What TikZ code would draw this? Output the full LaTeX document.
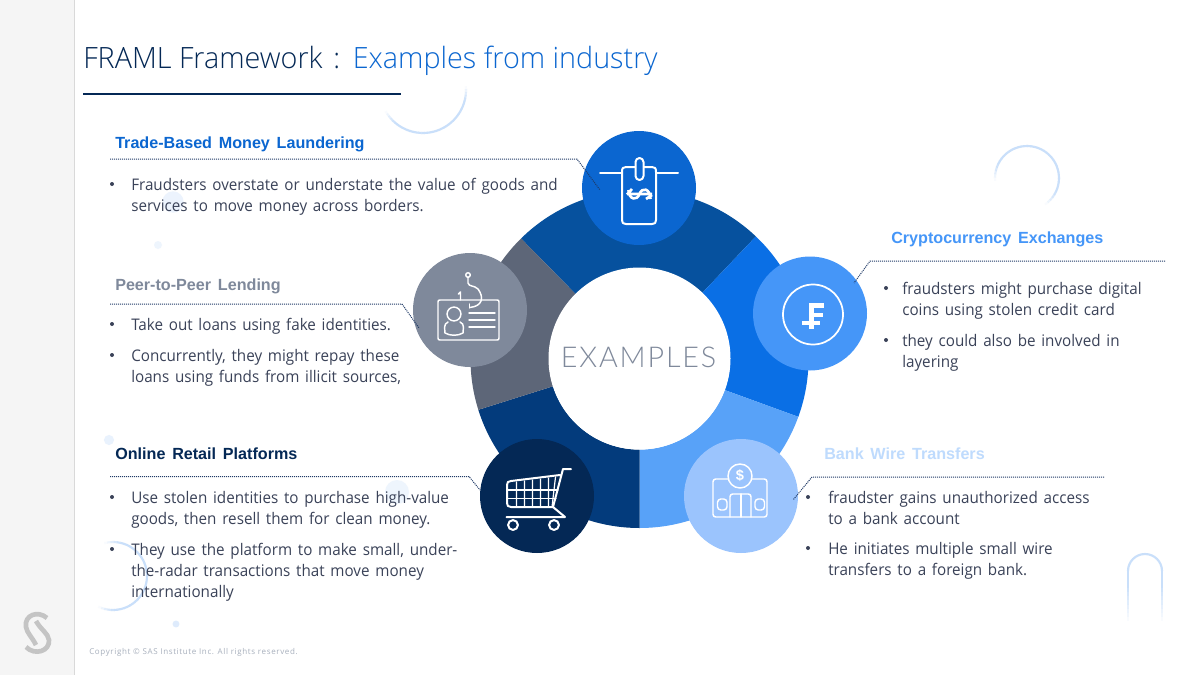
\documentclass[tikz,border=0pt]{standalone}
\usepackage{fontspec}
\setmainfont{Open Sans}
\newfontfamily\bodyfam[FakeStretch=0.95]{Open Sans}
\newfontfamily\titlefam[FakeStretch=0.98]{Open Sans Light}
\newfontfamily\headfont{Liberation Sans}
\newfontfamily\exfont[LetterSpace=6.5]{Lato Light}
\newfontfamily\copyfont[LetterSpace=8]{Open Sans}
\usetikzlibrary{calc}
\newcommand{\bodyfontset}{\bodyfam\fontsize{12}{15.75}\selectfont\spaceskip=0.36em plus 0.1em\relax}
\newcommand{\headfontset}{\headfont\bfseries\fontsize{12.1}{14}\selectfont\spaceskip=0.42em\relax}
\definecolor{cTop}{HTML}{06519E}\definecolor{cRight}{HTML}{0A6FE5}\definecolor{cLow}{HTML}{58A2F8}
\definecolor{cBot}{HTML}{033B7C}\definecolor{cLeft}{HTML}{5D6678}
\definecolor{dTop}{HTML}{0B66D0}\definecolor{dRight}{HTML}{4596F8}\definecolor{dLow}{HTML}{9BC4FD}
\definecolor{dBot}{HTML}{042855}\definecolor{dLeft}{HTML}{7F899B}
\definecolor{bodyc}{HTML}{3A4258}\definecolor{leaderc}{HTML}{1F3A66}\definecolor{deco}{HTML}{C9DFFA}
\definecolor{bankhead}{HTML}{BFDBFD}\definecolor{titlec}{HTML}{042855}\definecolor{copyc}{HTML}{A8B0BD}
\tikzset{
  x=0.75pt,y=0.75pt,
  disc/.style={circle,inner sep=0pt,minimum size=85.5pt},
  body/.style={anchor=north west,inner sep=0pt,align=left,text=bodyc,font=\bodyfontset},
  bullet/.style={circle,fill=bodyc,inner sep=0pt,minimum size=3pt},
  heading/.style={anchor=base west,inner sep=0pt,font=\headfontset},
  leader/.style={draw=leaderc,line width=0.75pt,dash pattern=on 0.75pt off 0.75pt},
  icon/.style={draw=white,line width=1.5pt,line join=round,line cap=round},
  iconthin/.style={draw=white,line width=1.1pt,line join=round,line cap=round},
}
\newcommand{\para}[4]{\node[body] (#1) at (#2,{-#3+14.7}) {\strut #4};}
\newcommand{\bul}[3]{\node[bullet] (#1) at (#2,{-#3}) {};}
\newcommand{\fadearc}[5]{%
  \foreach \i in {0,...,39}{%
    \pgfmathsetmacro{\aa}{#4+(#5-#4)*\i/40}%
    \pgfmathsetmacro{\bb}{#4+(#5-#4)*(\i+1.1)/40}%
    \pgfmathsetmacro{\op}{min(1,2.6*sin(180*(\i+0.5)/40))}%
    \draw[deco,line width=1.6pt,opacity=\op] ({#1+#3*cos(\aa)},{-#2+#3*sin(\aa)}) arc[start angle=\aa,end angle=\bb,radius=#3*0.75pt];
  }}
\begin{document}
\begin{tikzpicture}
\useasboundingbox (0,0) rectangle (1200,-675);
\fill[white] (0,0) rectangle (1200,-675);
% sidebar
\fill[black!4] (0,0) rectangle (74,-675);
\fill[black!15] (73.5,0) rectangle (75,-675);
% logo
\draw[black!23,line width=3.5pt] (47,-618) .. controls (38,-610) and (24,-615) .. (26,-627) .. controls (27,-633) and (32,-637) .. (36,-645);
\draw[black!23,line width=3.5pt] (26,-647) .. controls (35,-656) and (50,-651) .. (49,-640) .. controls (48,-633) and (41,-630) .. (36,-621);
% decoration
\fadearc{423}{90}{43}{5}{-150}
\fadearc{1027}{178}{32}{185}{-55}
\fadearc{113}{576}{34}{105}{-115}
\foreach \i in {0,...,11}{
  \pgfmathsetmacro{\op}{min(1,(12-\i)/9)}
  \draw[deco,line width=1.6pt,opacity=\op] (1128,{-571-\i*4.2}) -- (1128,{-571-(\i+1)*4.2});
  \draw[deco,line width=1.6pt,opacity=\op] (1162,{-571-\i*4.2}) -- (1162,{-571-(\i+1)*4.2});
}
\draw[deco,line width=1.6pt] (1128,-571) arc[start angle=180,end angle=0,radius=12.75pt];
\fill[deco,opacity=.35] (173,-202) circle[radius=8pt];
\fill[deco,opacity=.3] (158,-245) circle[radius=3pt];
\fill[deco,opacity=.6] (176,-624) circle[radius=2.6pt];
\fill[deco,opacity=.4] (109,-440) circle[radius=3.8pt];
\fill[deco,opacity=.3] (397,-492) circle[radius=9pt];
% title
\node[anchor=base west,inner sep=0pt,font=\titlefam\fontsize{22}{26}\selectfont] (title) at (83,-68) {\textcolor{titlec}{FRAML Framework\hspace{8pt}:}\hspace{2pt} \textcolor{dTop}{Examples from industry}};
\coordinate (ruleL) at (83,-94); \coordinate (ruleR) at (401,-94);
\draw[titlec,line width=1.5pt] (ruleL) -- (ruleR);
% ring
\coordinate (ctr) at (639.5,-359);
\begin{scope}[shift={(ctr)}]
\def\Ro{126.75pt}\def\Ri{68pt}
\foreach \a/\b/\c in {46.5/134.5/cTop,-20/46.5/cRight,-90/-20/cLow,-162.5/-90/cBot,134.5/197.5/cLeft}{
  \fill[\c] (\a:\Ro) arc[start angle=\a,end angle=\b,radius=\Ro] -- (\b:\Ri) arc[start angle=\b,end angle=\a,radius=\Ri] -- cycle;
}
\end{scope}
\node[circle,fill=white,inner sep=0pt,minimum size=136.5pt] (hub) at (639.5,-358.5) {};
\node[anchor=base,inner sep=0pt,text=dLeft,font=\exfont\fontsize{21.5}{24}\selectfont] (hubtext) at (638.5,-367) {EXAMPLES};
% discs
\node[disc,fill=dTop] (dtrade) at (639,-188) {};
\node[disc,fill=dRight] (dcrypto) at (810,-313.5) {};
\node[disc,fill=dLow] (dbank) at (741,-496) {};
\node[disc,fill=dBot] (dcart) at (537,-496) {};
\node[disc,fill=dLeft] (dpeer) at (470,-310) {};
% tag icon
\draw[icon] (600,-172.7) -- (622,-172.7) (656,-172.7) -- (678,-172.7);
\draw[icon] (622,-172) .. controls (622,-168) and (623,-167) .. (626,-167) -- (652,-167) .. controls (655,-167) and (656,-168) .. (656,-172) -- (656,-220) .. controls (656,-223) and (655,-224) .. (652,-224) -- (626,-224) .. controls (623,-224) and (622,-223) .. (622,-220) -- cycle;
\draw[icon,fill=dTop,rounded corners=3pt] (635.5,-158) rectangle (643.5,-180);
\draw[white,line width=2pt] (650.5,-199) .. controls (650,-188) and (642,-187) .. (639.5,-194) .. controls (637,-201) and (629,-200) .. (628.5,-190);
\draw[white,line width=2pt] (627,-194.5) -- (632,-189) (627,-194) -- (652,-194);
\draw[white,line width=2pt] (646,-199) -- (652,-195);
% F icon
\draw[white,line width=1.3pt] (813,-314.5) circle[radius=22.5pt];
\draw[white,line width=4.1pt] (811.5,-329) -- (811.5,-303);
\draw[white,line width=3.4pt] (809,-305.5) -- (824,-305.5);
\draw[white,line width=2.8pt] (811,-315) -- (823,-315) (802,-323) -- (820,-323);
% ID icon
\draw[iconthin] (440,-300) -- (497,-300) .. controls (498.5,-300) and (499,-300.5) .. (499,-302) -- (499,-338) .. controls (499,-339.5) and (498.5,-340) .. (497,-340) -- (440,-340) .. controls (438.5,-340) and (438,-339.5) .. (438,-338) -- (438,-302) .. controls (438,-300.5) and (438.5,-300) .. (440,-300) -- cycle;
\draw[iconthin] (454,-314) circle[radius=5.2pt];
\draw[iconthin] (448,-322) .. controls (443,-324) and (445,-330) .. (445,-333) .. controls (450,-336) and (458,-336) .. (463,-333) .. controls (463,-329) and (465,-324) .. (460,-322);
\draw[iconthin] (469,-313) -- (495,-313) (469,-320) -- (495,-320) (469,-327) -- (495,-327);
\draw[iconthin] (468,-275) circle[radius=1.7pt];
\draw[iconthin] (468,-277) -- (468,-283) .. controls (469,-287) and (474,-285) .. (478,-289) .. controls (484,-297) and (483,-306) .. (470,-307.5);
\draw[iconthin] (469.5,-304) -- (469.5,-308);
\draw[iconthin] (460.5,-300) -- (460.5,-292) (458.5,-294) -- (460.5,-292);
% cart icon
\draw[icon] (571,-469) -- (563,-469) -- (553,-507) -- (511,-507) .. controls (508,-507) and (507,-505.5) .. (507,-503) -- (507,-485) .. controls (507,-482) and (508,-481.5) .. (511,-481) -- (560,-475);
\draw[iconthin,line width=0.9pt] (516.5,-482) -- (516.5,-507) (524.5,-481) -- (524.5,-507) (532.5,-480) -- (532.5,-507) (540.5,-479) -- (540.5,-507) (548.5,-478) -- (548.5,-507) (555.5,-477) -- (552,-507);
\draw[iconthin,line width=0.9pt] (507,-490) -- (558,-490) (507,-498.5) -- (556,-498.5);
\draw[icon] (506.5,-517) -- (565,-517) -- (553,-507);
\draw[icon] (513,-525) circle[radius=3.7pt] (554,-525) circle[radius=3.7pt];
% bank icon
\draw[iconthin,rounded corners=2pt] (713,-479) rectangle (767,-517);
\draw[iconthin,fill=dLow] (740,-476) circle[radius=9pt];
\node[inner sep=0pt,text=white,font=\headfont\bfseries\fontsize{11}{12}\selectfont] (dollar) at (740,-476) {\$};
\draw[iconthin,rounded corners=2pt] (730,-517) -- (730,-494) -- (751,-494) -- (751,-517);
\draw[iconthin] (741,-494) -- (741,-517);
\draw[iconthin,rounded corners=2.5pt] (717.5,-499) rectangle (727,-510);
\draw[iconthin,rounded corners=2.5pt] (755,-499) rectangle (764.5,-510);
% leaders
\coordinate (a1) at (110,-159); \coordinate (a2) at (577,-159); \coordinate (a3) at (600,-190);
\draw[leader] (a1) -- (a2) -- (a3);
\coordinate (b1) at (110,-304); \coordinate (b2) at (402,-304); \coordinate (b3) at (419,-328);
\draw[leader] (b1) -- (b2) -- (b3);
\coordinate (c1) at (110,-476.5); \coordinate (c2) at (469,-476.5); \coordinate (c3) at (480,-490);
\draw[leader] (c1) -- (c2) -- (c3);
\coordinate (d1) at (1165,-261); \coordinate (d2) at (870,-261); \coordinate (d3) at (854,-283);
\draw[leader] (d1) -- (d2) -- (d3);
\coordinate (e1) at (1104,-477); \coordinate (e2) at (812,-477); \coordinate (e3) at (793,-500);
\draw[leader] (e1) -- (e2) -- (e3);
% headings
\node[heading,text=dTop] (h1) at (115,-148) {Trade-Based Money Laundering};
\node[heading,text=dLeft] (h2) at (115,-290) {Peer-to-Peer Lending};
\node[heading,text=dBot] (h3) at (115,-459) {Online Retail Platforms};
\node[heading,text=dRight] (h4) at (891,-243) {Cryptocurrency Exchanges};
\node[heading,text=bankhead] (h5) at (824,-459) {Bank Wire Transfers};
% bodies
\bul{b11}{112}{184}
\para{p11}{131}{190}{Fraudsters overstate or understate the value of goods and\\services to move money across borders.}
\bul{b21}{112}{324}
\para{p21}{131}{330}{Take out loans using fake identities.}
\bul{b22}{112}{355}
\para{p22}{131}{361}{Concurrently, they might repay these\\loans using funds from illicit sources,}
\bul{b31}{112}{497}
\para{p31}{131}{503}{Use stolen identities to purchase high-value\\goods, then resell them for clean money.}
\bul{b32}{112}{549}
\para{p32}{131}{555}{They use the platform to make small, under-\\the-radar transactions that move money\\internationally}
\bul{b41}{886}{288}
\para{p41}{902}{294.5}{fraudsters might purchase digital\\coins using stolen credit card}
\bul{b42}{886}{340}
\para{p42}{902}{346.5}{they could also be involved in\\layering}
\bul{b51}{808}{497}
\para{p51}{828}{503}{fraudster gains unauthorized access\\to a bank account}
\bul{b52}{808}{548}
\para{p52}{828}{554.5}{He initiates multiple small wire\\transfers to a foreign bank.}
% footer
\node[anchor=base west,inner sep=0pt,text=copyc,font=\copyfont\fontsize{6}{7}\selectfont] (copy) at (89,-654) {Copyright © SAS Institute Inc. All rights reserved.};
\end{tikzpicture}
\end{document}
